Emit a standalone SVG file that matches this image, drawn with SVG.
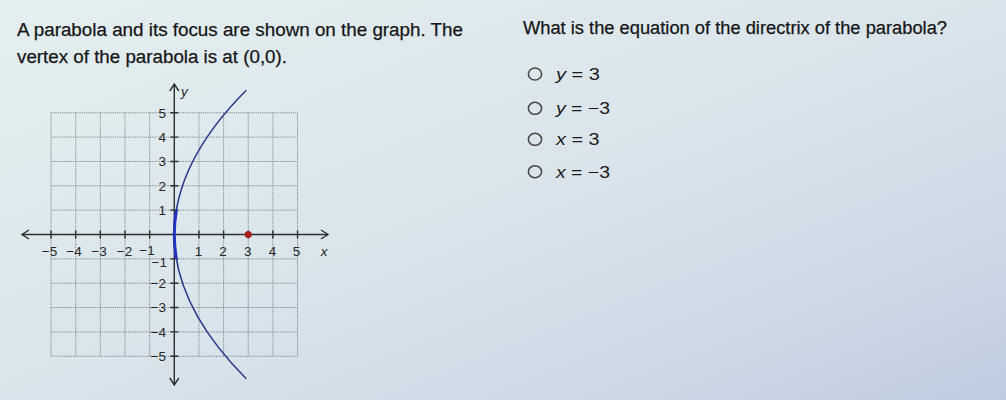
<svg xmlns="http://www.w3.org/2000/svg" width="1006" height="400" viewBox="0 0 1006 400">
<defs>
<linearGradient id="bg" x1="0" y1="0" x2="1" y2="1">
<stop offset="0" stop-color="#e4eff1"/>
<stop offset="0.45" stop-color="#dbe6ec"/>
<stop offset="0.8" stop-color="#cdd8e6"/>
<stop offset="1" stop-color="#bfcbe0"/>
</linearGradient>
<style>
.txt{font-family:"Liberation Sans",Arial,sans-serif;fill:#161616;stroke:#161616;stroke-width:0.25}
.q{font-size:18px}
.tick{font-family:"Liberation Sans",Arial,sans-serif;font-size:13.5px;fill:#262626}
.ital{font-style:italic}
.grid{fill:none;stroke:#80868c;stroke-width:1;stroke-dasharray:1.2 1}
.axis{fill:none;stroke:#2b2f33;stroke-width:1.4}
.opt{fill:none;stroke:#4a4a4a;stroke-width:1.6}
.ans{font-family:"Liberation Sans",Arial,sans-serif;font-size:16.5px;fill:#1c1c1c}
</style>
</defs>
<rect width="1006" height="400" fill="url(#bg)"/>

<g id="prompt">
<text class="txt q" x="17" y="36" textLength="446" lengthAdjust="spacingAndGlyphs">A parabola and its focus are shown on the graph. The</text>
<text class="txt q" x="17" y="63" textLength="270" lengthAdjust="spacingAndGlyphs">vertex of the parabola is at (0,0).</text>
</g>

<g id="question">
<text class="txt q" x="523" y="34" textLength="424" lengthAdjust="spacingAndGlyphs">What is the equation of the directrix of the parabola?</text>
</g>

<g id="graph">
<path class="grid" d="M51.05 112.75V356.25M75.7 112.75V356.25M100.35 112.75V356.25M125 112.75V356.25M149.65 112.75V356.25M198.95 112.75V356.25M223.6 112.75V356.25M248.25 112.75V356.25M272.9 112.75V356.25M297.55 112.75V356.25M51.05 112.75H297.55M51.05 137.1H297.55M51.05 161.45H297.55M51.05 185.8H297.55M51.05 210.15H297.55M51.05 258.85H297.55M51.05 283.2H297.55M51.05 307.55H297.55M51.05 331.9H297.55M51.05 356.25H297.55"/>
<g id="axes">
<path class="axis" d="M22 234.5H328M174.3 84V385"/>
<path class="axis" d="M29 230L22 234.5L29 239M321 230L328 234.5L321 239M169.8 91L174.3 84L178.8 91M169.8 378L174.3 385L178.8 378"/>
<path class="axis" d="M51.05 230.5V238.5M75.7 230.5V238.5M100.35 230.5V238.5M125 230.5V238.5M149.65 230.5V238.5M198.95 230.5V238.5M223.6 230.5V238.5M248.25 230.5V238.5M272.9 230.5V238.5M297.55 230.5V238.5M170.3 112.75H178.3M170.3 137.1H178.3M170.3 161.45H178.3M170.3 185.8H178.3M170.3 210.15H178.3M170.3 258.85H178.3M170.3 283.2H178.3M170.3 307.55H178.3M170.3 331.9H178.3M170.3 356.25H178.3"/>
</g>
<g id="x-labels" class="tick" text-anchor="middle">
<text x="49.5" y="256">−5</text>
<text x="74" y="256">−4</text>
<text x="99" y="256">−3</text>
<text x="124.5" y="256">−2</text>
<text x="147" y="255">−1</text>
<text x="198.5" y="256">1</text>
<text x="223" y="256">2</text>
<text x="247.7" y="256">3</text>
<text x="272.5" y="256">4</text>
<text x="296.5" y="256">5</text>
<text x="324" y="256" class="ital">x</text>
</g>
<g id="y-labels" class="tick" text-anchor="end">
<text x="166" y="117.5">5</text>
<text x="166" y="141.8">4</text>
<text x="166" y="166.2">3</text>
<text x="166" y="190.5">2</text>
<text x="166" y="214.9">1</text>
<text x="167" y="266.5">−1</text>
<text x="166" y="287.9">−2</text>
<text x="166" y="312.3">−3</text>
<text x="166" y="336.6">−4</text>
<text x="166" y="361">−5</text>
</g>
<text class="tick ital" x="181" y="95.5">y</text>
<g id="parabola">
<path d="M246.3 90.3Q102.3 234.5 246.3 378.7" fill="none" stroke="#2c3a8c" stroke-width="1.5"/>
<path d="M176.35 210.15Q172.25 234.5 176.35 258.85" fill="none" stroke="#2233c0" stroke-width="3"/>
</g>
<g id="focus">
<circle cx="248.25" cy="234.5" r="3.6" fill="#a8201c"/>
</g>
</g>

<g id="option-1">
<ellipse class="opt" cx="535" cy="74" rx="6.6" ry="6"/>
<text class="ans" x="556" y="80" textLength="44" lengthAdjust="spacingAndGlyphs"><tspan class="ital">y</tspan> = 3</text>
</g>
<g id="option-2">
<ellipse class="opt" cx="535" cy="108.3" rx="6.6" ry="6"/>
<text class="ans" x="556" y="114.3" textLength="54" lengthAdjust="spacingAndGlyphs"><tspan class="ital">y</tspan> = −3</text>
</g>
<g id="option-3">
<ellipse class="opt" cx="535" cy="139.3" rx="6.6" ry="6"/>
<text class="ans" x="556" y="145.3" textLength="43.5" lengthAdjust="spacingAndGlyphs"><tspan class="ital">x</tspan> = 3</text>
</g>
<g id="option-4">
<ellipse class="opt" cx="535" cy="171.7" rx="6.6" ry="6"/>
<text class="ans" x="556" y="177.7" textLength="54" lengthAdjust="spacingAndGlyphs"><tspan class="ital">x</tspan> = −3</text>
</g>
</svg>
